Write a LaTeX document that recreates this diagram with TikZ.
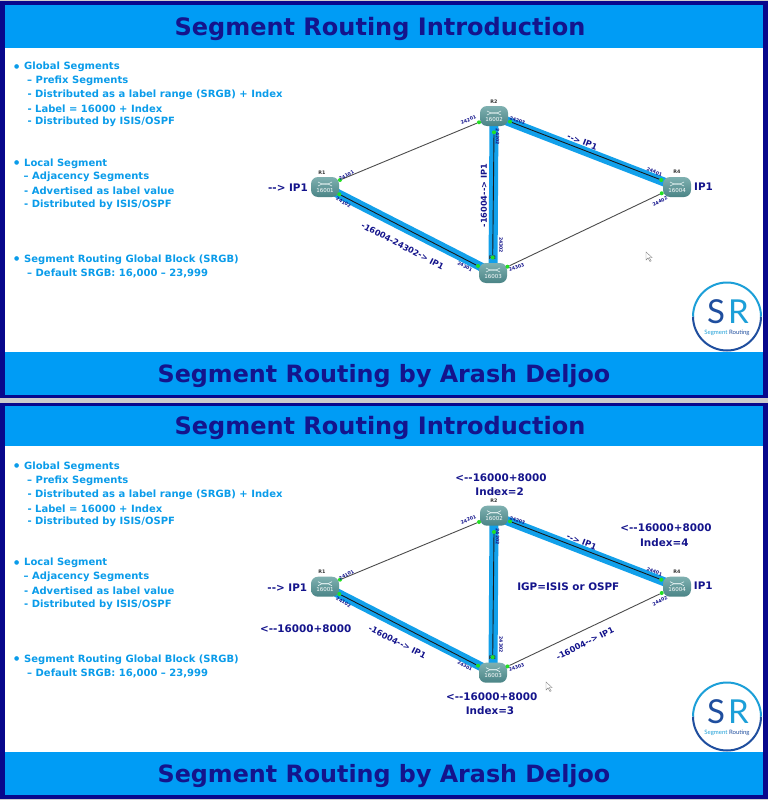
\documentclass[tikz,border=0pt]{standalone}
\usepackage{fontspec}
\setmainfont{DejaVu Sans}
\newfontfamily\logofont{Lato}
\pgfdeclarelayer{panel}
\pgfdeclarelayer{links}
\pgfsetlayers{panel,links,main}
\definecolor{navy}{HTML}{14148C}
\definecolor{frameblue}{HTML}{08088C}
\definecolor{band}{HTML}{009CF5}
\definecolor{bullettext}{HTML}{0A9CEA}
\definecolor{linkcyan}{HTML}{12A0EA}
\definecolor{logodark}{HTML}{1F4E9E}
\definecolor{logocyan}{HTML}{1C9FD8}
\definecolor{dotgreen}{HTML}{22E022}
\definecolor{routertop}{HTML}{7FB0B0}
\definecolor{routerbot}{HTML}{4A8486}
\newcommand{\bul}{\makebox[10pt][l]{\raisebox{1.3pt}{\fontsize{6}{7}\selectfont ●}}}
\tikzset{
  x=1pt,y=-1pt,
  headline/.style={font=\bfseries\fontsize{24}{28}\selectfont,text=navy,inner sep=0pt},
  footline/.style={font=\bfseries\fontsize{23.8}{28}\selectfont,text=navy,inner sep=0pt},
  bullet/.style={anchor=west,font=\bfseries\fontsize{10}{12}\selectfont,text=bullettext,inner sep=0pt},
  callout/.style={font=\bfseries\fontsize{10.4}{12}\selectfont,text=navy,inner sep=0pt},
  tilted/.style={font=\bfseries\fontsize{8.2}{10}\selectfont,text=navy,inner sep=0pt},
  router/.style={draw=none,rounded corners=7pt,minimum width=28pt,minimum height=20pt,inner sep=0pt,
    top color=routertop,bottom color=routerbot,text=white,font=\fontsize{5.5}{6}\selectfont},
  rname/.style={font=\bfseries\fontsize{4.8}{5}\selectfont,text=black!80,inner sep=0pt},
  port/.style={font=\bfseries\fontsize{4.6}{5}\selectfont,text=navy,inner sep=0pt},
  ifdot/.style={circle,fill=dotgreen,inner sep=0pt,minimum size=4pt},
  hotlink/.style={line width=9pt,draw=linkcyan},
  thinlink/.style={line width=0.9pt,draw=black!70},
  hotcore/.style={line width=0.9pt,draw=black!90},
  xmark/.style={white!90!teal,line width=0.6pt},
}
\newcommand{\routeratt}[3]{%
  \node[router] (#1) at (#2) {\raisebox{-5.2pt}[0pt][0pt]{#3}};
  \draw[xmark] ([xshift=-7pt,yshift=5pt]#1.center) -- ++(4,2) -- ++(3,0);
  \draw[xmark] ([xshift=-7pt,yshift=1pt]#1.center) -- ++(4,-2) -- ++(3,0);
  \draw[xmark] ([xshift=7pt,yshift=5pt]#1.center) -- ++(-4,2) -- ++(-3,0);
  \draw[xmark] ([xshift=7pt,yshift=1pt]#1.center) -- ++(-4,-2) -- ++(-3,0);
}
% shared network: routers, interface dots, links, port labels
\newcommand{\network}{%
  \routeratt{r1}{325,187}{16001}
  \routeratt{r2}{494,116}{16002}
  \routeratt{r3}{493,273}{16003}
  \routeratt{r4}{677,187}{16004}
  \node[rname] (n1) at (322,172.5) {R1};
  \node[rname] (n2) at (494,101.5) {R2};
  \node[rname] (n3) at (492.5,258) {R3};
  \node[rname] (n4) at (677,172) {R4};
  \node[ifdot] (d12) at (340,180) {};
  \node[ifdot] (d21) at (479,122.3) {};
  \node[ifdot] (d13) at (339.3,194.3) {};
  \node[ifdot] (d31) at (478,266) {};
  \node[ifdot] (d23) at (494,132.3) {};
  \node[ifdot] (d32) at (492.7,257.5) {};
  \node[ifdot] (d24) at (510,121.7) {};
  \node[ifdot] (d42) at (661.3,180) {};
  \node[ifdot] (d34) at (507.5,266.7) {};
  \node[ifdot] (d43) at (661.7,193.3) {};
  \begin{pgfonlayer}{links}
    \draw[hotlink] (r1.center) -- (r3.center);
    \draw[hotlink] (r2.center) -- (r3.center);
    \draw[hotlink] (r2.center) -- (r4.center);
    \draw[hotcore] (d13) -- (d31);
    \draw[hotcore] (d23) -- (d32);
    \draw[hotcore] (d24) -- (d42);
    \draw[thinlink] (d12) -- (d21);
    \draw[thinlink] (d34) -- (d43);
  \end{pgfonlayer}
  \node[port,rotate=28] (p1) at (346.5,175.5) {24101};
  \node[port,rotate=-30] (p2) at (343.5,202.5) {24102};
  \node[port,rotate=22] (p3) at (468.5,120) {24201};
  \node[port,rotate=-20] (p4) at (517.5,120.5) {24203};
  \node[port,rotate=-90] (p5) at (497.5,137) {24202};
  \node[port,rotate=-28] (p6) at (465,266.5) {24301};
  \node[port,rotate=-90] (p7) at (501,245) {24302};
  \node[port,rotate=20] (p8) at (516.5,267.5) {24303};
  \node[port,rotate=-22] (p9) at (654.5,172) {24401};
  \node[port,rotate=27] (p10) at (660,201.5) {24402};
}
\newcommand{\logomark}{%
  \draw[line width=2pt,logodark] (693,316.5) arc[start angle=180,end angle=0,radius=34];
  \draw[line width=2pt,logocyan] (693,316.5) arc[start angle=180,end angle=360,radius=34];
  \node[text=logodark,font=\logofont\fontsize{33}{33}\selectfont,inner sep=0pt] (ls) at (716,312) {S};
  \node[text=logocyan,font=\logofont\fontsize{33}{33}\selectfont,inner sep=0pt] (lr) at (738.5,312) {R};
  \node[font=\logofont\fontsize{6}{7}\selectfont,inner sep=0pt] (lt) at (727,332.5)
    {\textcolor{logocyan}{Segment} \textcolor{logodark}{Routing}};
}
\newcommand{\cursormark}[2]{%
  \draw[line width=0.4pt,draw=gray,fill=white] (#1,#2) -- ++(0,8) -- ++(2,-2) -- ++(2,3.5) -- ++(1.2,-.7) -- ++(-2,-3.3) -- ++(2.8,0) -- cycle;
}
\begin{document}
\begin{tikzpicture}
\useasboundingbox (0,0) rectangle (768,800);
\begin{pgfonlayer}{panel}
  \fill[black!20!white] (0,0) rectangle (768,800);
  \fill[frameblue] (0,1) rectangle (768,398);
  \fill[white] (5,5) rectangle (763,352);
  \fill[band] (5,5) rectangle (763,48);
  \fill[band] (5,352) rectangle (763,395);
  \fill[frameblue] (0,403) rectangle (768,799);
  \fill[white] (5,406) rectangle (763,752);
  \fill[band] (5,406) rectangle (763,446);
  \fill[band] (5,752) rectangle (763,795);
\end{pgfonlayer}

% ---------- top panel ----------
\node[headline] (title1) at (380,29) {Segment Routing Introduction};
\node[footline] (foot1) at (384,376) {Segment Routing by Arash Deljoo};
\node[bullet] at (14,67.2) (a1) {\bul Global Segments};
\node[bullet] at (27,81.2) (a2) {– Prefix Segments};
\node[bullet] at (27.3,94.8) (a3) {- Distributed as a label range (SRGB) + Index};
\node[bullet] at (27.3,108.5) (a4) {- Label = 16000 + Index};
\node[bullet] at (27.3,122.2) (a5) {- Distributed by ISIS/OSPF};
\node[bullet] at (14,163.5) (a6) {\bul Local Segment};
\node[bullet] at (23.5,177.2) (a7) {– Adjacency Segments};
\node[bullet] at (24,191) (a8) {- Advertised as label value};
\node[bullet] at (24,204.5) (a9) {- Distributed by ISIS/OSPF};
\node[bullet] at (14,259.5) (a10) {\bul Segment Routing Global Block (SRGB)};
\node[bullet] at (27,273.2) (a11) {– Default SRGB: 16,000 – 23,999};
\begin{scope}[name prefix=top]
  \network
\end{scope}
\node[callout] (t1) at (288,187.5) {-{}-> IP1};
\node[callout] (t2) at (703.5,186.5) {IP1};
\node[tilted,rotate=-27.5] (t3) at (402.7,246) {-16004-24302-> IP1};
\node[tilted,rotate=90] (t4) at (484,195.7) {-16004-{}-> IP1};
\node[tilted,rotate=-21] (t5) at (582.3,141.7) {-{}-> IP1};
\cursormark{646}{252}
\begin{scope}[name prefix=toplogo]
  \logomark
\end{scope}

% ---------- bottom panel ----------
\node[headline] (title2) at (380,428) {Segment Routing Introduction};
\node[footline] (foot2) at (384,776) {Segment Routing by Arash Deljoo};
\node[bullet] at (14,466.5) (b1) {\bul Global Segments};
\node[bullet] at (27,480.5) (b2) {– Prefix Segments};
\node[bullet] at (27.3,494.5) (b3) {- Distributed as a label range (SRGB) + Index};
\node[bullet] at (27.3,508.5) (b4) {- Label = 16000 + Index};
\node[bullet] at (27.3,521.5) (b5) {- Distributed by ISIS/OSPF};
\node[bullet] at (14,563) (b6) {\bul Local Segment};
\node[bullet] at (23.5,576.5) (b7) {– Adjacency Segments};
\node[bullet] at (24,590.5) (b8) {- Advertised as label value};
\node[bullet] at (24,604.5) (b9) {- Distributed by ISIS/OSPF};
\node[bullet] at (14,659.5) (b10) {\bul Segment Routing Global Block (SRGB)};
\node[bullet] at (27,673.5) (b11) {– Default SRGB: 16,000 – 23,999};
\begin{scope}[name prefix=bot,yshift=-399.7pt]
  \network
\end{scope}
\node[callout] (c1) at (501,477.8) {<-{}-16000+8000};
\node[callout] (c2) at (499.7,491.8) {Index=2};
\node[callout] (c3) at (666,528.2) {<-{}-16000+8000};
\node[callout] (c4) at (664.3,542.2) {Index=4};
\node[callout] (c5) at (568.3,586.8) {IGP=ISIS or OSPF};
\node[callout] (c6) at (287.3,587.5) {-{}-> IP1};
\node[callout] (c7) at (703.3,585.8) {IP1};
\node[callout] (c8) at (305.7,629.2) {<-{}-16000+8000};
\node[tilted,rotate=-27] (c9) at (397.3,642) {-16004-{}-> IP1};
\node[tilted,rotate=26.5] (c10) at (585,643.3) {-16004-{}-> IP1};
\node[tilted,rotate=-21] (c11) at (581.7,541.7) {-{}-> IP1};
\node[callout] (c12) at (491.7,696.5) {<-{}-16000+8000};
\node[callout] (c13) at (490,710.5) {Index=3};
\cursormark{546}{682}
\begin{scope}[name prefix=botlogo,yshift=-400pt]
  \logomark
\end{scope}
\end{tikzpicture}
\end{document}
